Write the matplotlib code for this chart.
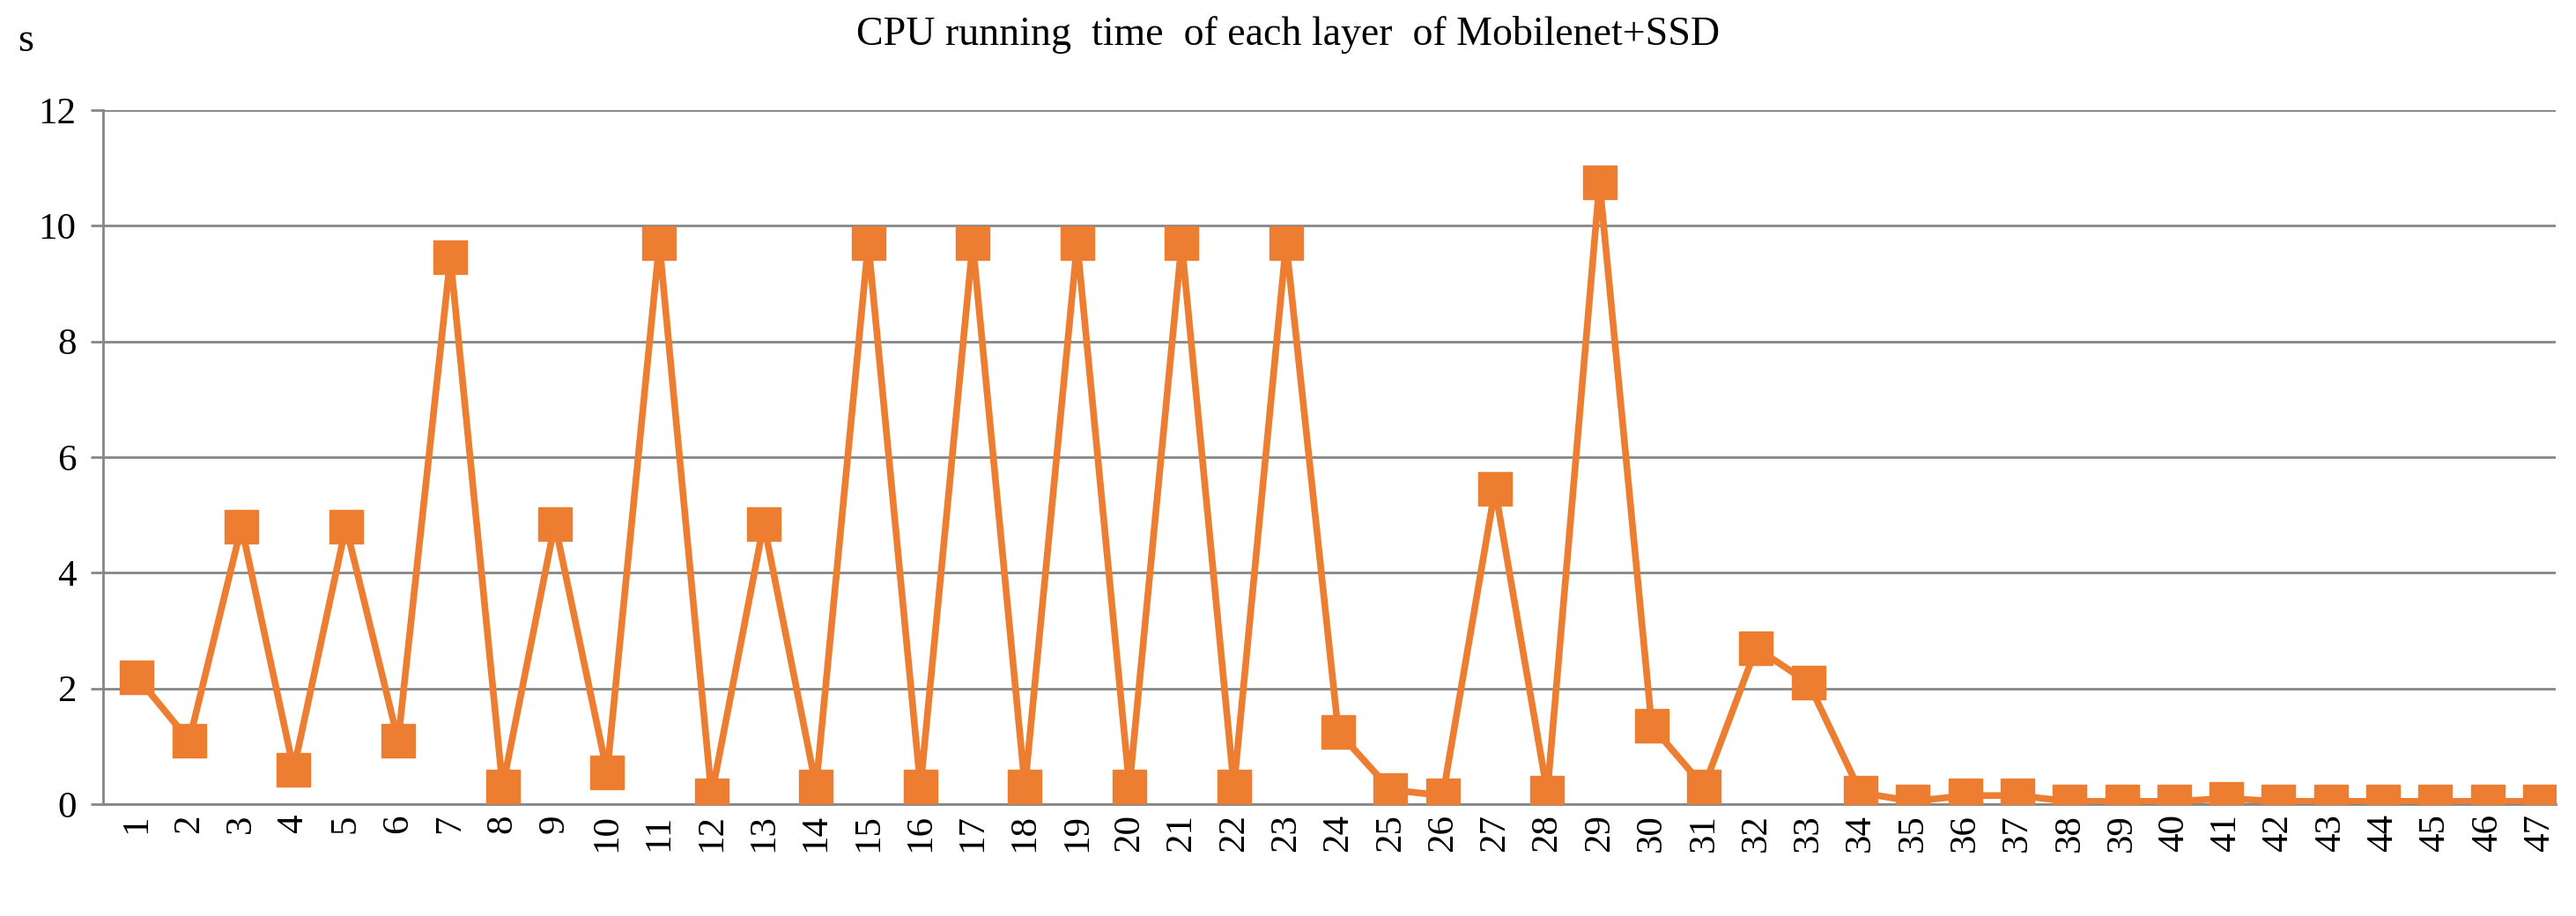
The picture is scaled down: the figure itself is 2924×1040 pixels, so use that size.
import matplotlib
matplotlib.use("Agg")
import matplotlib.pyplot as plt

layers = list(range(1, 48))
times = [2.2, 1.1, 4.8, 0.6, 4.8, 1.1, 9.45, 0.3, 4.85, 0.55,
         9.7, 0.15, 4.85, 0.3, 9.7, 0.3, 9.7, 0.3, 9.7, 0.3,
         9.7, 0.3, 9.7, 1.25, 0.25, 0.15, 5.45, 0.2, 10.75, 1.35,
         0.3, 2.7, 2.1, 0.2, 0.05, 0.15, 0.15, 0.05, 0.05, 0.05,
         0.1, 0.05, 0.05, 0.05, 0.05, 0.05, 0.05]
yticks = [0, 2, 4, 6, 8, 10, 12]

plt.rcParams['font.family'] = ['Liberation Serif', 'DejaVu Serif']
fig = plt.figure(figsize=(29.24, 10.4), dpi=100)
ax = fig.add_axes([0.04, 0.122, 0.952, 0.758])
ax.plot(layers, times, color='#ED7D31', lw=5.5, marker='s', ms=27, zorder=3)
ax.set_xlim(0.35, 47.3)
ax.set_ylim(0, 12)
ax.set_yticks(yticks)
ax.set_xticks(layers)
ax.set_xticklabels([str(l) for l in layers], rotation=90)
ax.tick_params(axis='both', labelsize=31, length=10, color='#868686', width=2)
ax.tick_params(axis='x', length=0, pad=8)
ax.tick_params(axis='y', pad=12)
ax.grid(axis='y', color='#868686', lw=2)
ax.set_axisbelow(True)
for s in ['top', 'right']:
    ax.spines[s].set_visible(False)
for s in ['left', 'bottom']:
    ax.spines[s].set_color('#868686')
    ax.spines[s].set_linewidth(2)
fig.text(0.5, 0.962, 'CPU running  time  of each layer  of Mobilenet+SSD',
         ha='center', va='center', fontsize=33)
fig.text(0.007, 0.955, 's', ha='left', va='center', fontsize=33)
fig.savefig('out.png', dpi=100)
